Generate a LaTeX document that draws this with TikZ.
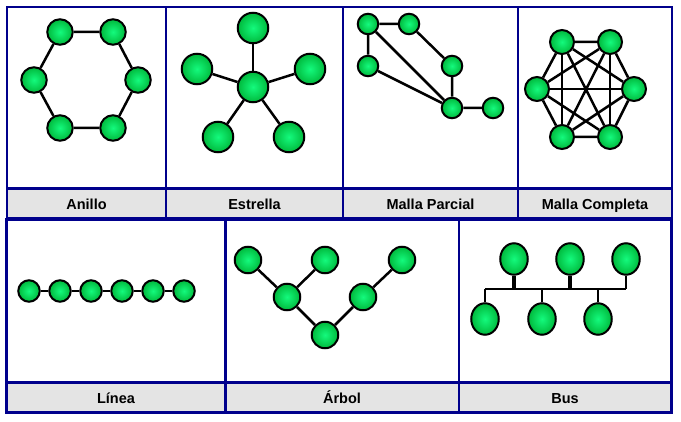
\documentclass[tikz,border=0pt]{standalone}
\usepackage{fontspec}
\setmainfont{Liberation Sans}
\usetikzlibrary{shapes.geometric}
\definecolor{frameblue}{RGB}{0,0,140}
\definecolor{bandgray}{RGB}{228,228,228}
\definecolor{nodehi}{RGB}{20,250,125}
\definecolor{nodelo}{RGB}{0,185,60}
\tikzset{
  pc/.style={circle,draw=black,line width=2pt,inner sep=0pt,minimum size=#1,inner color=nodehi,outer color=nodelo},
  pcbus/.style={ellipse,draw=black,line width=2pt,inner sep=0pt,minimum width=27.5pt,minimum height=31.5pt,inner color=nodehi,outer color=nodelo},
  link/.style={line width=2.5pt},
  lbl/.style={anchor=base,font=\bfseries\fontsize{14.5}{16}\selectfont},
  frame/.style={frameblue,line width=2.6pt}
}
\begin{document}
\begin{tikzpicture}[x=1pt,y=-1pt]
\useasboundingbox (0,0) rectangle (681,422);
%\draw[step=10,gray,very thin] (0,0) grid (681,422);
\fill[bandgray] (7,188.5) rectangle (672,218.5);
\fill[bandgray] (6.5,382.5) rectangle (671.5,412.5);
\draw[frame] (7,7) rectangle (672,218.5);
\draw[frame] (7,188.5) -- (672,188.5);
\draw[frame] (166,7) -- (166,218.5);
\draw[frame] (343,7) -- (343,218.5);
\draw[frame] (518,7) -- (518,218.5);
\draw[frame] (6.5,219.5) rectangle (671.5,412.5);
\draw[frame] (6.5,382.5) -- (671.5,382.5);
\draw[frame] (225.5,219.5) -- (225.5,412.5);
\draw[frame] (459,219.5) -- (459,412.5);

\node[lbl] (tAnillo) at (86.5,209.5) {Anillo};
\node[lbl] (tEstrella) at (254.5,209.5) {Estrella};
\node[lbl] (tParcial) at (430.5,209.5) {Malla Parcial};
\node[lbl] (tCompleta) at (595,209.5) {Malla Completa};
\node[lbl] (tLinea) at (116,404) {Línea};
\node[lbl] (tArbol) at (342,404) {Árbol};
\node[lbl] (tBus) at (565,404) {Bus};

% anillo
\node[pc=25.5] (a1) at (60,32) {};
\node[pc=25.5] (a2) at (113,32) {};
\node[pc=25.5] (a3) at (138,80) {};
\node[pc=25.5] (a4) at (113,128) {};
\node[pc=25.5] (a5) at (60,128) {};
\node[pc=25.5] (a6) at (34,80) {};
\draw[link] (a1) -- (a2) -- (a3) -- (a4) -- (a5) -- (a6) -- (a1);

% estrella
\node[pc=30.5] (e0) at (253,87) {};
\node[pc=30.5] (e1) at (253,28) {};
\node[pc=30.5] (e2) at (310,69) {};
\node[pc=30.5] (e3) at (289,137) {};
\node[pc=30.5] (e4) at (218,137) {};
\node[pc=30.5] (e5) at (197,69) {};
\draw[link] (e0) -- (e1);
\draw[link] (e0) -- (e2);
\draw[link] (e0) -- (e3);
\draw[link] (e0) -- (e4);
\draw[link] (e0) -- (e5);

% malla parcial
\node[pc=20.5] (p1) at (368,24) {};
\node[pc=20.5] (p2) at (409,24) {};
\node[pc=20.5] (p3) at (368,66) {};
\node[pc=20.5] (p4) at (452,66) {};
\node[pc=20.5] (p5) at (452,108) {};
\node[pc=20.5] (p6) at (493,108) {};
\draw[link] (p1) -- (p2) -- (p4) -- (p5) -- (p6);
\draw[link] (p1) -- (p3) -- (p5);
\draw[link] (p1) -- (p5);

% malla completa
\node[pc=24] (m1) at (562,42) {};
\node[pc=24] (m2) at (610,42) {};
\node[pc=24] (m3) at (634,89) {};
\node[pc=24] (m4) at (610,137) {};
\node[pc=24] (m5) at (562,137) {};
\node[pc=24] (m6) at (537,89) {};
\draw[link] (m1) -- (m2) -- (m3) -- (m4) -- (m5) -- (m6) -- (m1);
\draw[link] (m1) -- (m3); \draw[link] (m1) -- (m4); \draw[link] (m1) -- (m5);
\draw[link] (m2) -- (m4); \draw[link] (m2) -- (m5); \draw[link] (m2) -- (m6);
\draw[link] (m3) -- (m5); \draw[link] (m3) -- (m6);
\draw[link] (m4) -- (m6);

% linea
\node[pc=21.5] (l1) at (29,291) {};
\node[pc=21.5] (l2) at (60,291) {};
\node[pc=21.5] (l3) at (91,291) {};
\node[pc=21.5] (l4) at (122,291) {};
\node[pc=21.5] (l5) at (153,291) {};
\node[pc=21.5] (l6) at (184,291) {};
\draw[line width=2pt] (l1) -- (l2) -- (l3) -- (l4) -- (l5) -- (l6);

% arbol
\node[pc=26.5] (r1) at (248,260) {};
\node[pc=26.5] (r2) at (325,260) {};
\node[pc=26.5] (r3) at (287,297) {};
\node[pc=26.5] (r4) at (325,335) {};
\node[pc=26.5] (r5) at (363,297) {};
\node[pc=26.5] (r6) at (402,260) {};
\draw[link] (r1) -- (r3) -- (r4) -- (r5) -- (r6);
\draw[link] (r2) -- (r3);

% bus
\coordinate (bus) at (0,289);
\node[pcbus] (b1) at (514,259) {};
\node[pcbus] (b2) at (570,259) {};
\node[pcbus] (b3) at (626,259) {};
\node[pcbus] (b4) at (485,319) {};
\node[pcbus] (b5) at (542,319) {};
\node[pcbus] (b6) at (598,319) {};
\draw[line width=2pt] (b4 |- bus) -- (b3 |- bus);
\draw[line width=3.5pt] (b1) -- (b1 |- bus);
\draw[line width=3.5pt] (b2) -- (b2 |- bus);
\draw[line width=2.5pt] (b3) -- (b3 |- bus);
\draw[line width=2pt] (b4) -- (b4 |- bus);
\draw[line width=2pt] (b5) -- (b5 |- bus);
\draw[line width=2pt] (b6) -- (b6 |- bus);
\end{tikzpicture}
\end{document}
